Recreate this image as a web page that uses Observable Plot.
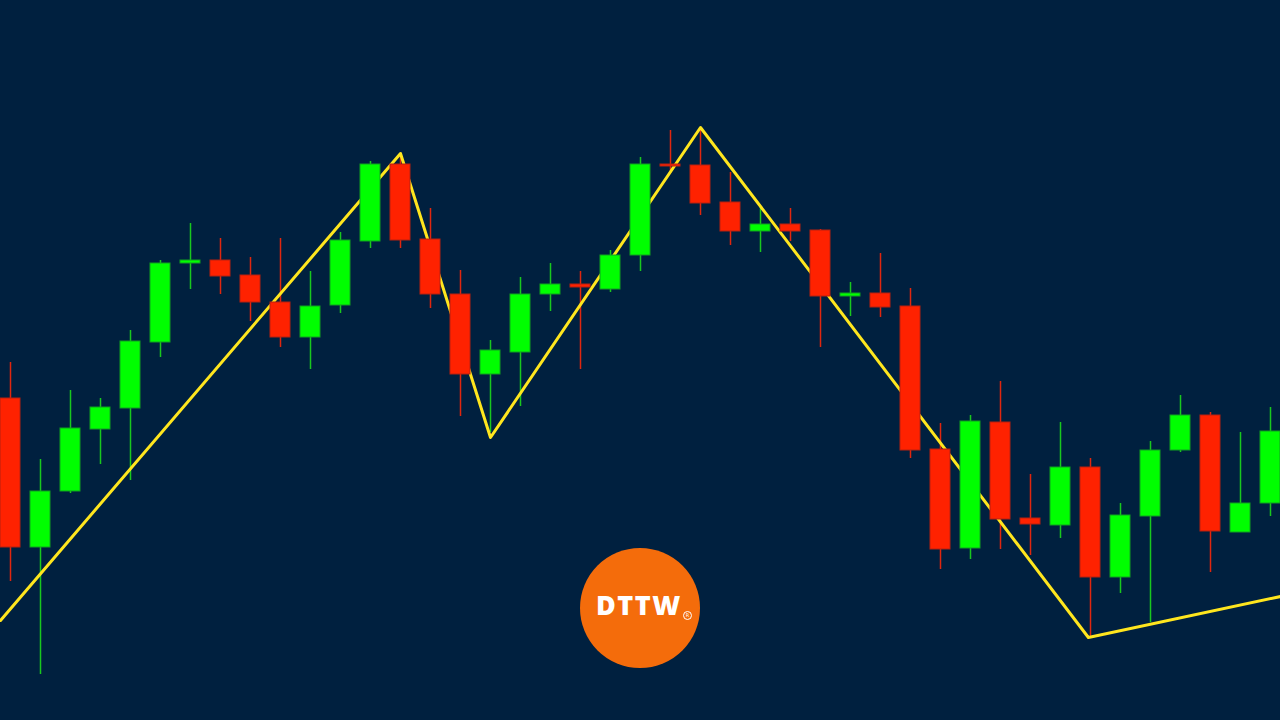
<!DOCTYPE html>
<html>
<head>
<meta charset="utf-8">
<script src="https://cdn.jsdelivr.net/npm/d3@7"></script>
<script src="https://cdn.jsdelivr.net/npm/@observablehq/plot@0.6"></script>
<style>
  html, body { margin: 0; padding: 0; background: #00203f; }
  #wrap { position: relative; width: 1280px; height: 720px; overflow: hidden; background: #00203f; }
  #wrap svg { display: block; }
  #logo { position: absolute; left: 580px; top: 548px; width: 120px; height: 120px; border-radius: 50%;
          background: #f46c0b; }
  #logoText { position: absolute; left: 596px; top: 590px; color: #fff; font-family: "Open Sans", "DejaVu Sans", sans-serif;
              font-weight: 800; font-size: 27px; letter-spacing: 1.5px; line-height: 30px; }
  #reg { position: absolute; left: 683px; top: 611px; width: 7px; height: 7px; border: 1px solid #fff; border-radius: 50%;
         font-size: 5px; color: #fff; text-align: center; line-height: 7px; font-family: "DejaVu Sans", sans-serif; }
</style>
</head>
<body>
<div id="wrap">
  <div id="chart"></div>
  <div id="logo"></div>
  <div id="logoText">DTTW</div>
  <div id="reg">R</div>
</div>
<script>
// Candle prices (arbitrary price units)
const opens  = [322,173,229,291,312,378,457,460,445,418,383,415,479,556,481,426,346,368,426,436,431,465,556,555,518,489,496,490,424,427,414,271,172,298,202,195,253,143,204,270,305,188,217];
const closes = [173,229,292,313,379,457,460,444,418,383,414,480,556,480,426,346,370,426,436,433,465,556,554,517,489,496,489,424,427,413,270,171,299,201,196,253,143,205,270,305,189,217,289];
const highs  = [358,261,330,322,390,460,497,482,463,482,449,488,559,565,512,450,380,443,457,449,470,563,590,593,548,513,512,491,438,467,432,297,305,339,246,298,262,217,279,325,308,288,313];
const lows   = [139, 46,227,256,240,363,431,426,399,373,351,407,472,472,412,304,288,314,409,351,428,449,547,505,475,468,479,373,404,403,262,151,161,171,165,182, 83,127, 98,268,148,188,204];

// Zigzag swing points: candle index and price
const zigIndex = [-1/3, 13, 16, 23, 35.93, 42 + 1/3];
const zigPrice = [100, 567, 283, 593, 83, 124];

const GREEN = "#00ff00", RED = "#ff2200";
const candles = opens.map((o, i) => ({
  i, open: o, close: closes[i], high: highs[i], low: lows[i],
  up: closes[i] >= o
}));
const zig = zigIndex.map((x, k) => ({x, y: zigPrice[k]}));

const chart = Plot.plot({
  width: 1280,
  height: 720,
  margin: 0,
  style: {background: "#00203f"},
  x: {type: "linear", domain: [-1/3, 42 + 1/3], axis: null},
  y: {domain: [0, 720], axis: null},
  color: {type: "identity"},
  marks: [
    Plot.ruleX(candles, {x: "i", y1: "low", y2: "high",
      stroke: d => d.up ? "#19c81e" : "#e0260e", strokeWidth: 1.5}),
    Plot.line(zig, {x: "x", y: "y", stroke: "#ffe61e", strokeWidth: 3, curve: "linear"}),
    Plot.rect(candles, {
      x1: d => d.i - 1/3, x2: d => d.i + 1/3,
      y1: d => Math.min(d.open, d.close), y2: d => Math.max(d.open, d.close),
      fill: d => d.up ? GREEN : RED,
      stroke: d => d.up ? "#10a020" : "#b82010", strokeWidth: 1
    })
  ]
});
document.getElementById("chart").appendChild(chart);
</script>
</body>
</html>
